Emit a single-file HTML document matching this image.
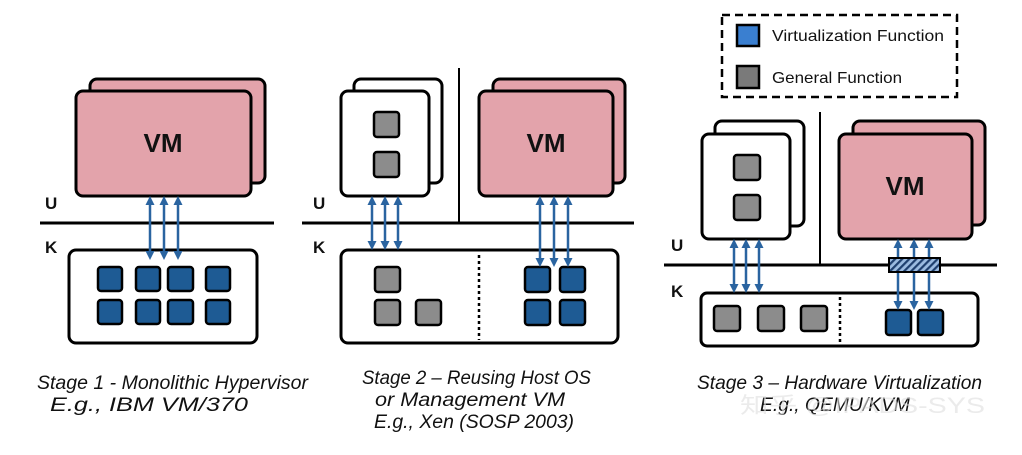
<!DOCTYPE html>
<html><head><meta charset="utf-8"><style>
html,body{margin:0;padding:0;background:#fff;}
svg{display:block;}
text{font-family:"Liberation Sans","Noto Sans CJK SC",sans-serif;}
.it{font-style:italic;font-size:19px;fill:#111;}
.vm{font-weight:bold;font-size:26px;fill:#111;}
.uk{font-weight:bold;font-size:17px;fill:#111;}
</style></head><body>
<svg width="1022" height="455" viewBox="0 0 1022 455" xmlns="http://www.w3.org/2000/svg">
<defs>
<marker id="ah" markerWidth="9" markerHeight="9" refX="5" refY="4.5" orient="auto-start-reverse" markerUnits="userSpaceOnUse">
<path d="M0,0 L9,4.5 L0,9 z" fill="#2a64a0"/></marker>
<pattern id="hatch" width="5" height="5" patternUnits="userSpaceOnUse" patternTransform="rotate(45)">
<rect width="5" height="5" fill="#9bbbe0"/><rect width="2.2" height="5" fill="#1e3f6e"/></pattern>
</defs>
<g stroke="#000" stroke-width="3">
<rect x="90" y="79" width="175" height="104" rx="7" fill="#e3a3ab"/>
<rect x="76" y="91" width="175" height="105" rx="7" fill="#e3a3ab"/>
<line x1="40" y1="223" x2="274" y2="223"/>
<rect x="69" y="250" width="188" height="93" rx="7" fill="#fff"/>
<g fill="#1e5b94" stroke-width="2.5">
<rect x="98" y="267" width="24" height="24" rx="3"/><rect x="136" y="267" width="24" height="24" rx="3"/><rect x="168" y="267" width="25" height="24" rx="3"/><rect x="206" y="267" width="24" height="24" rx="3"/>
<rect x="98" y="300" width="24" height="24" rx="3"/><rect x="136" y="300" width="24" height="24" rx="3"/><rect x="168" y="300" width="25" height="24" rx="3"/><rect x="206" y="300" width="24" height="24" rx="3"/>
</g>
<line x1="459" y1="68" x2="459" y2="223" stroke-width="2"/>
<rect x="354" y="79" width="88" height="104" rx="7" fill="#fff"/>
<rect x="341" y="91" width="88" height="105" rx="7" fill="#fff"/>
<rect x="493" y="79" width="132" height="104" rx="7" fill="#e3a3ab"/>
<rect x="479" y="91" width="134" height="105" rx="7" fill="#e3a3ab"/>
<line x1="302" y1="223" x2="634" y2="223"/>
<rect x="341" y="250" width="277" height="93" rx="7" fill="#fff"/>
<line x1="479" y1="255" x2="479" y2="340" stroke-dasharray="3,3" stroke-width="2.5"/>
<g fill="#8c8c8c" stroke-width="2.5">
<rect x="374" y="112" width="25" height="25" rx="3"/><rect x="374" y="152" width="25" height="25" rx="3"/>
<rect x="375" y="267" width="25" height="25" rx="3"/><rect x="375" y="300" width="25" height="25" rx="3"/><rect x="416" y="300" width="25" height="25" rx="3"/>
</g>
<g fill="#1e5b94" stroke-width="2.5">
<rect x="525" y="267" width="25" height="25" rx="3"/><rect x="560" y="267" width="25" height="25" rx="3"/>
<rect x="525" y="300" width="25" height="25" rx="3"/><rect x="560" y="300" width="25" height="25" rx="3"/>
</g>
<line x1="820" y1="112" x2="820" y2="265" stroke-width="2"/>
<rect x="715" y="121" width="89" height="105" rx="7" fill="#fff"/>
<rect x="702" y="134" width="88" height="105" rx="7" fill="#fff"/>
<rect x="853" y="121" width="132" height="104" rx="7" fill="#e3a3ab"/>
<rect x="839" y="134" width="133" height="105" rx="7" fill="#e3a3ab"/>
<line x1="664" y1="265" x2="997" y2="265"/>
<rect x="701" y="293" width="277" height="53" rx="6" fill="#fff"/>
<line x1="840" y1="297" x2="840" y2="343" stroke-dasharray="3,3" stroke-width="2.5"/>
<g fill="#8c8c8c" stroke-width="2.5">
<rect x="734" y="155" width="26" height="25" rx="3"/><rect x="734" y="195" width="26" height="25" rx="3"/>
<rect x="714" y="306" width="26" height="25" rx="3"/><rect x="758" y="306" width="26" height="25" rx="3"/><rect x="801" y="306" width="26" height="25" rx="3"/>
</g>
<g fill="#1e5b94" stroke-width="2.5">
<rect x="886" y="310" width="25" height="25" rx="3"/><rect x="918" y="310" width="25" height="25" rx="3"/>
</g>
<rect x="722" y="15" width="235" height="82" fill="none" stroke-dasharray="8,5" stroke-width="2.5"/>
<rect x="737" y="25" width="22" height="21" fill="#3a7fd0" stroke-width="2.5"/>
<rect x="737" y="66" width="22" height="22" fill="#7a7a7a" stroke-width="2.5"/>
</g>
<g stroke="#2a64a0" stroke-width="2.5" marker-start="url(#ah)" marker-end="url(#ah)">
<line x1="150" y1="200" x2="150" y2="256"/><line x1="164" y1="200" x2="164" y2="256"/><line x1="178" y1="200" x2="178" y2="256"/>
<line x1="372" y1="200" x2="372" y2="246"/><line x1="385" y1="200" x2="385" y2="246"/><line x1="398" y1="200" x2="398" y2="246"/>
<line x1="540" y1="200" x2="540" y2="263"/><line x1="554" y1="200" x2="554" y2="263"/><line x1="568" y1="200" x2="568" y2="263"/>
<line x1="734" y1="243" x2="734" y2="289"/><line x1="746" y1="243" x2="746" y2="289"/><line x1="759" y1="243" x2="759" y2="289"/>
<line x1="898" y1="243" x2="898" y2="306"/><line x1="914" y1="243" x2="914" y2="306"/><line x1="929" y1="243" x2="929" y2="306"/>
</g>
<rect x="889" y="258" width="51" height="14" fill="url(#hatch)" stroke="#000" stroke-width="2"/>
<text class="vm" x="163" y="152" text-anchor="middle">VM</text>
<text class="vm" x="546" y="152" text-anchor="middle">VM</text>
<text class="vm" x="905" y="195" text-anchor="middle">VM</text>
<text class="uk" x="45" y="209">U</text><text class="uk" x="45" y="253">K</text>
<text class="uk" x="313" y="209">U</text><text class="uk" x="313" y="253">K</text>
<text class="uk" x="671" y="251">U</text><text class="uk" x="671" y="297">K</text>
<text x="772" y="41" font-size="16" fill="#111" textLength="172" lengthAdjust="spacingAndGlyphs">Virtualization Function</text>
<text x="772" y="83" font-size="16" fill="#111" textLength="130" lengthAdjust="spacingAndGlyphs">General Function</text>
<text class="it" x="37" y="389" textLength="271" lengthAdjust="spacingAndGlyphs">Stage 1 - Monolithic Hypervisor</text>
<text class="it" x="50" y="411" textLength="198" lengthAdjust="spacingAndGlyphs">E.g., IBM VM/370</text>
<text class="it" x="362" y="384" textLength="229" lengthAdjust="spacingAndGlyphs">Stage 2 – Reusing Host OS</text>
<text class="it" x="375" y="406" textLength="190" lengthAdjust="spacingAndGlyphs">or Management VM</text>
<text class="it" x="374" y="428" textLength="200" lengthAdjust="spacingAndGlyphs">E.g., Xen (SOSP 2003)</text>
<text class="it" x="697" y="389" textLength="285" lengthAdjust="spacingAndGlyphs">Stage 3 – Hardware Virtualization</text>
<text class="it" x="760" y="411" textLength="150" lengthAdjust="spacingAndGlyphs">E.g., QEMU/KVM</text>
<text x="740" y="413" font-size="22" fill="#ddd" fill-opacity="0.6" textLength="245" lengthAdjust="spacingAndGlyphs">知乎 @IPADS-SYS</text>
</svg>
</body></html>
